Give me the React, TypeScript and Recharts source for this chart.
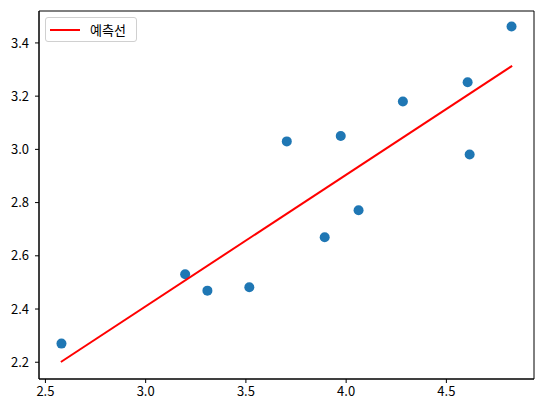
import { ScatterChart, Scatter, XAxis, YAxis, ReferenceArea } from 'recharts';

// 관측값 (산점도)
const xValues = [2.58, 3.197, 3.308, 3.517, 3.704, 3.893, 3.973, 4.062, 4.283, 4.606, 4.616, 4.825];
const yValues = [2.27, 2.531, 2.469, 2.482, 3.03, 2.67, 3.05, 2.771, 3.18, 3.252, 2.981, 3.462];

// 예측선 (회귀선 양 끝점)
const lineX = [2.577, 4.828];
const linePred = [2.201, 3.314];

const xTicks = [2.5, 3.0, 3.5, 4.0, 4.5];
const yTicks = [2.2, 2.4, 2.6, 2.8, 3.0, 3.2, 3.4];

const X_DOMAIN: [number, number] = [2.468, 4.937];
const Y_DOMAIN: [number, number] = [2.137, 3.52];

const FONT = '"Noto Sans CJK KR", "Noto Sans", sans-serif';

const points = xValues.map((x, i) => ({ x, y: yValues[i] }));
const lineData = lineX.map((x, i) => ({ x, y: linePred[i] }));

// 범례: matplotlib 스타일 박스 (차트 위에 겹쳐서 배치)
function LegendBox() {
  return (
    <div
      style={{
        position: 'absolute',
        left: 45,
        top: 17,
        border: '1px solid #d0d0d0',
        borderRadius: 3,
        background: 'rgba(255,255,255,0.8)',
        width: 92,
        height: 25,
        boxSizing: 'border-box',
        display: 'flex',
        alignItems: 'center',
        fontFamily: FONT,
        fontSize: 13,
        color: '#000',
      }}
    >
      <div style={{ width: 30, height: 2, background: '#ff0000', marginLeft: 4, marginRight: 10 }} />
      <span>예측선</span>
    </div>
  );
}

export default function App() {
  return (
    <div style={{ position: 'absolute', left: 0, top: 0, width: 544, height: 412, background: '#fff' }}>
      <ScatterChart width={544} height={412} margin={{ top: 11, right: 10, bottom: 0, left: 0 }}>
        <XAxis
          type="number"
          dataKey="x"
          domain={X_DOMAIN}
          ticks={xTicks}
          allowDataOverflow
          height={33}
          tickSize={4}
          tickMargin={4}
          tickFormatter={(v: number) => v.toFixed(1)}
          stroke="#000"
          tick={{ fill: '#000', fontSize: 13, fontFamily: FONT }}
        />
        <YAxis
          type="number"
          dataKey="y"
          domain={Y_DOMAIN}
          ticks={yTicks}
          allowDataOverflow
          width={39}
          tickSize={4}
          tickMargin={6}
          tickFormatter={(v: number) => v.toFixed(1)}
          stroke="#000"
          tick={{ fill: '#000', fontSize: 13, fontFamily: FONT }}
        />
        <ReferenceArea
          x1={X_DOMAIN[0]}
          x2={X_DOMAIN[1]}
          y1={Y_DOMAIN[0]}
          y2={Y_DOMAIN[1]}
          fill="none"
          stroke="#000"
          strokeWidth={1}
          fillOpacity={0}
        />
        <Scatter
          name="관측값"
          data={points}
          fill="#1f77b4"
          isAnimationActive={false}
          shape={(p: any) => <circle cx={p.cx} cy={p.cy} r={5} fill="#1f77b4" />}
        />
        <Scatter
          name="예측선"
          data={lineData}
          line={{ stroke: '#ff0000', strokeWidth: 2 }}
          lineType="joint"
          isAnimationActive={false}
          shape={() => <g />}
        />
      </ScatterChart>
      <LegendBox />
    </div>
  );
}
